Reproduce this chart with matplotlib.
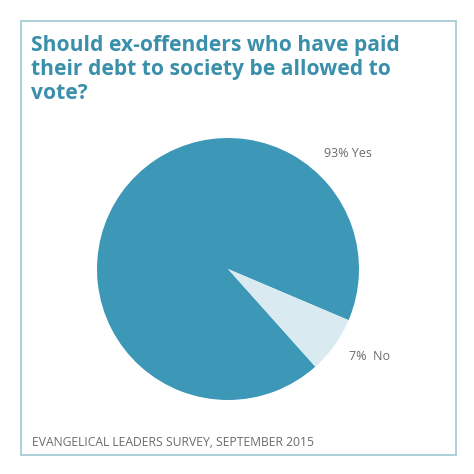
import numpy as np
import matplotlib
matplotlib.use("Agg")
import matplotlib.pyplot as plt
from matplotlib.patches import Rectangle

# data
answers = ["Yes", "No"]
shares = [93, 7]
colors = ["#3d97b7", "#d9eaf1"]

title = "Should ex-offenders who have paid\ntheir debt to society be allowed to\nvote?"
source = "EVANGELICAL LEADERS SURVEY, SEPTEMBER 2015"

fig = plt.figure(figsize=(4.74, 4.74), dpi=100)
fig.patch.set_facecolor("white")

# frame round the whole card
fig.patches.append(
    Rectangle((21 / 474, 1 - 455 / 474), 435 / 474, 434 / 474,
              transform=fig.transFigure, fill=False,
              edgecolor="#a5ccd6", linewidth=1.3)
)

fig.text(31 / 474, 1 - 35 / 474, title, ha="left", va="top",
         fontsize=15.1, fontweight="bold", color="#3a8fab",
         family="Open Sans", linespacing=1.2)

fig.text(32 / 474, 1 - 443 / 474, source, ha="left", va="center",
         fontsize=8.7, color="#6b6b6b", family="Open Sans")

# pie
ax = fig.add_axes([97 / 474, 74 / 474, 262 / 474, 262 / 474])
ax.pie(shares, colors=colors, startangle=-23, counterclock=True,
       wedgeprops=dict(linewidth=0))
ax.set_aspect("equal")
ax.set_xlim(-1, 1)
ax.set_ylim(-1, 1)

# labels sit outside the pie
label_angles = [44, -31.7]
for name, val, ang in zip(answers, shares, label_angles):
    r = 1.27
    gap = "  " if name == "No" else " "
    ax.text(r * np.cos(np.radians(ang)), r * np.sin(np.radians(ang)),
            f"{val}%{gap}{name}", ha="center", va="center",
            fontsize=9, color="#6b6b6b", family="Open Sans",
            clip_on=False)

fig.savefig("out.png", dpi=100, facecolor="white")
